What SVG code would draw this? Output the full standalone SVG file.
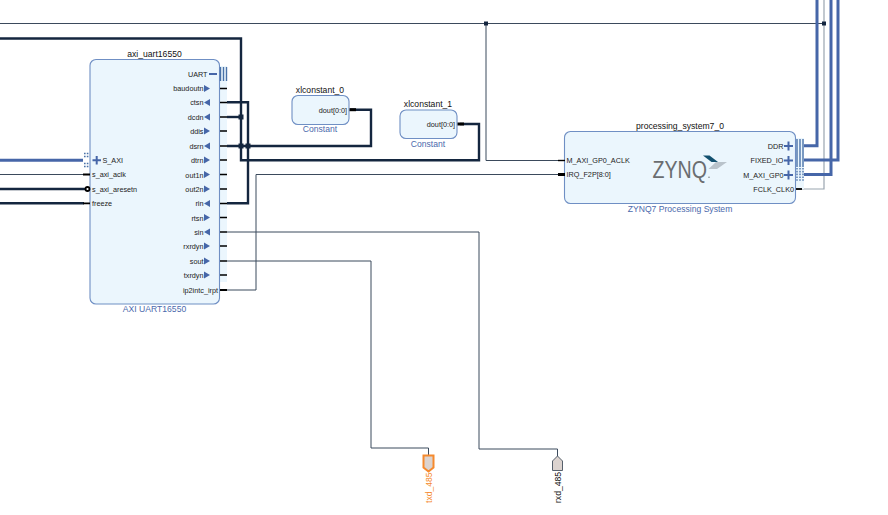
<svg xmlns="http://www.w3.org/2000/svg" width="888" height="515" viewBox="0 0 888 515">
<defs>
<style>
text{font-family:"Liberation Sans",Arial,sans-serif;font-size:7.25px;fill:#222}
.t{font-size:8.6px;fill:#111}
.s{font-size:8.6px;fill:#4a69ac}
.r{text-anchor:end}
.m{text-anchor:middle}
.box{fill:#ebf6fd;stroke:#6f8fc4;stroke-width:1.1}
.strip{fill:#ebf6fd}
.w{fill:none;stroke:#3b4a5c;stroke-width:1}
.g{fill:none;stroke:#9aa5b0;stroke-width:1.2}
.d{fill:none;stroke:#14263f;stroke-width:2.400}
.b{fill:none;stroke:#4666a8;stroke-width:3}
.stub{stroke:#000;stroke-width:1.4}
.stubt{stroke:#000;stroke-width:3}
.tri{fill:#4666a8}
.plus{fill:none;stroke:#4666a8;stroke-width:2}
.bar{stroke:#4a72a8;stroke-width:1.4}
.dash{stroke:#4a72a8;stroke-width:1.4;stroke-dasharray:1.6 1.2}
.j{fill:#14263f}
</style>
</defs>
<rect width="888" height="515" fill="#fff"/>
<g id="connectors">
<path class="w" d="M0 23.500H824"/>
<path class="w" d="M486 23.500V160.500H559"/>
<path class="g" d="M824 0V189H797"/>
<path class="b" d="M817 0V145.700H797"/>
<path class="b" d="M831 0V174.500H797"/>
<path class="b" d="M838 0V160H797"/>
<path class="b" d="M0 160.200H83"/>
<path class="w" d="M0 174.500H84"/>
<path class="d" d="M0 189H85"/>
<path class="d" d="M0 203.300H84"/>
<path class="d" d="M0 38.500H241V160.300H479V124H460"/>
<path class="d" d="M350 109.700H371V146H224"/>
<path class="d" d="M224 117H241"/>
<path class="d" d="M224 102.300H248V203.300H224"/>
<path class="w" d="M224 290H256V174.500H559"/>
<path class="w" d="M224 232H479V449H557.500V456"/>
<path class="w" d="M224 261H371V448H428.500V456"/>
<rect class="j" x="238.500" y="114.500" width="5" height="5"/>
<rect class="j" x="238.500" y="143.500" width="5" height="5"/>
<rect class="j" x="245.500" y="143.500" width="5" height="5"/>
<rect class="j" x="484" y="21.500" width="4" height="4"/>
<rect class="j" x="822" y="21.500" width="4" height="4"/>
</g>
<g id="axi_uart16550">
<rect class="strip" x="219" y="66" width="8" height="216"/>
<rect class="box" x="90" y="59.500" width="129.500" height="244.500" rx="6"/>
<text class="t m" x="154.500" y="56.500">axi_uart16550</text>
<text class="s m" x="154.500" y="312">AXI UART16550</text>
<path class="plus" d="M209 74H217"/>
<path class="bar" d="M220.500 67V81M223.500 67V81M226.500 67V81"/>
<path class="plus" d="M92.500 160.200H101M96.700 156V164.500"/>
<path class="dash" d="M84 153.500H89M84 156.500H89M84 163.500H89M84 166.500H89"/>
<g class="tri">
<path d="M204 85V92L210 88.500Z"/><path d="M210 99V106L204 102.500Z"/><path d="M210 113.500V120.500L204 117Z"/><path d="M204 127.500V134.500L210 131Z"/><path d="M210 142.500V149.500L204 146Z"/><path d="M204 156.500V163.500L210 160Z"/><path d="M204 171V178L210 174.500Z"/><path d="M204 185.500V192.500L210 189Z"/><path d="M210 200V207L204 203.500Z"/><path d="M204 214V221L210 217.500Z"/><path d="M210 228.500V235.500L204 232Z"/><path d="M204 242.500V249.500L210 246Z"/><path d="M204 257.500V264.500L210 261Z"/><path d="M204 271.500V278.500L210 275Z"/>
</g>
<path class="stub" d="M220 88.500H227M220 102.500H227M220 117H227M220 131H227M220 146H227M220 160H227M220 174.500H227M220 189H227M220 203.500H227M220 217.500H227M220 232H227M220 246H227M220 261H227M220 275H227"/>
<path class="stubt" d="M220 290H227M83 174.500H90M83 203.300H90" style="stroke-width:1.800"/>
<circle cx="87.500" cy="189" r="2" fill="#fff" stroke="#000" stroke-width="1.800"/>
<text x="102.500" y="163">S_AXI</text>
<text x="92" y="177">s_axi_aclk</text>
<text x="92" y="191.500">s_axi_aresetn</text>
<text x="92" y="206">freeze</text>
<text class="r" x="207.500" y="76.500">UART</text>
<text class="r" x="203.500" y="91">baudoutn</text>
<text class="r" x="203.500" y="105">ctsn</text>
<text class="r" x="203.500" y="120">dcdn</text>
<text class="r" x="203.500" y="134">ddis</text>
<text class="r" x="203.500" y="148.500">dsrn</text>
<text class="r" x="203.500" y="163">dtrn</text>
<text class="r" x="203.500" y="177.500">out1n</text>
<text class="r" x="203.500" y="192">out2n</text>
<text class="r" x="203.500" y="206">rin</text>
<text class="r" x="203.500" y="220.500">rtsn</text>
<text class="r" x="203.500" y="235">sin</text>
<text class="r" x="203.500" y="249">rxrdyn</text>
<text class="r" x="203.500" y="264">sout</text>
<text class="r" x="203.500" y="278">txrdyn</text>
<text class="r" x="218" y="292.500">ip2intc_irpt</text>
</g>
<g id="xlconstant_0">
<rect class="box" x="292" y="95.500" width="57" height="29" rx="6"/>
<text class="t m" x="320" y="92.500">xlconstant_0</text>
<text class="s m" x="320" y="132">Constant</text>
<text class="r" x="347" y="112.500">dout[0:0]</text>
<path class="stubt" d="M349.500 109.700H356"/>
</g>
<g id="xlconstant_1">
<rect class="box" x="400" y="110" width="57" height="28.500" rx="6"/>
<text class="t m" x="428" y="107">xlconstant_1</text>
<text class="s m" x="428" y="146.500">Constant</text>
<text class="r" x="455" y="127">dout[0:0]</text>
<path class="stubt" d="M457.500 124H464"/>
</g>
<g id="processing_system7_0">
<rect class="strip" x="796" y="138" width="8" height="51"/>
<rect class="box" x="564.500" y="131.500" width="231" height="72" rx="6"/>
<text class="t m" x="680" y="128.500">processing_system7_0</text>
<text class="s m" x="680" y="211.500">ZYNQ7 Processing System</text>
<path class="stub" d="M558 160.500H565"/>
<path class="stubt" d="M558 174.500H565"/>
<text x="566.500" y="163">M_AXI_GP0_ACLK</text>
<text x="566.500" y="177">IRQ_F2P[8:0]</text>
<text x="652.500" y="178" style="font-size:23px;fill:#6a6d70" textLength="54.500" lengthAdjust="spacingAndGlyphs">ZYNQ</text>
<circle cx="709" cy="177.300" r="0.700" fill="#6a6d70"/>
<path d="M703 155.500H709.500L718 162H711.500Z" fill="#12506f"/>
<path d="M716 162H727L717 169H708.500Z" fill="#b9c3cb"/>
<text class="r" x="783.500" y="148.500">DDR</text>
<text class="r" x="783.500" y="163">FIXED_IO</text>
<text class="r" x="783.500" y="177.500">M_AXI_GP0</text>
<text class="r" x="794" y="192">FCLK_CLK0</text>
<path class="plus" d="M784 146H793M788.500 141.500V150.500M784 160.500H793M788.500 156V165M784 175H793M788.500 170.500V179.500"/>
<path class="bar" d="M797 139V167M800 139V167M803 139V167"/>
<path class="dash" d="M797 168V182M800 168V182M803 168V182"/>
<path class="stubt" d="M796 189H802" style="stroke-width:1.800"/>
</g>
<g id="txd_485">
<path d="M423.500 455.500H433.500V467.500L428.500 471.500L423.500 467.500Z" fill="#dcd3cf" stroke="#f58a2e" stroke-width="2"/>
<text x="0" y="0" transform="translate(431.500 503) rotate(-90)" style="font-size:8.600px;fill:#f58a2e">txd_485</text>
</g>
<g id="rxd_485">
<path d="M552.500 470.500V461L557.500 456L562.500 461V470.500Z" fill="#dcd3cf" stroke="#56606c" stroke-width="1"/>
<text x="0" y="0" transform="translate(561 503) rotate(-90)" style="font-size:8.600px;fill:#111">rxd_485</text>
</g>
</svg>
